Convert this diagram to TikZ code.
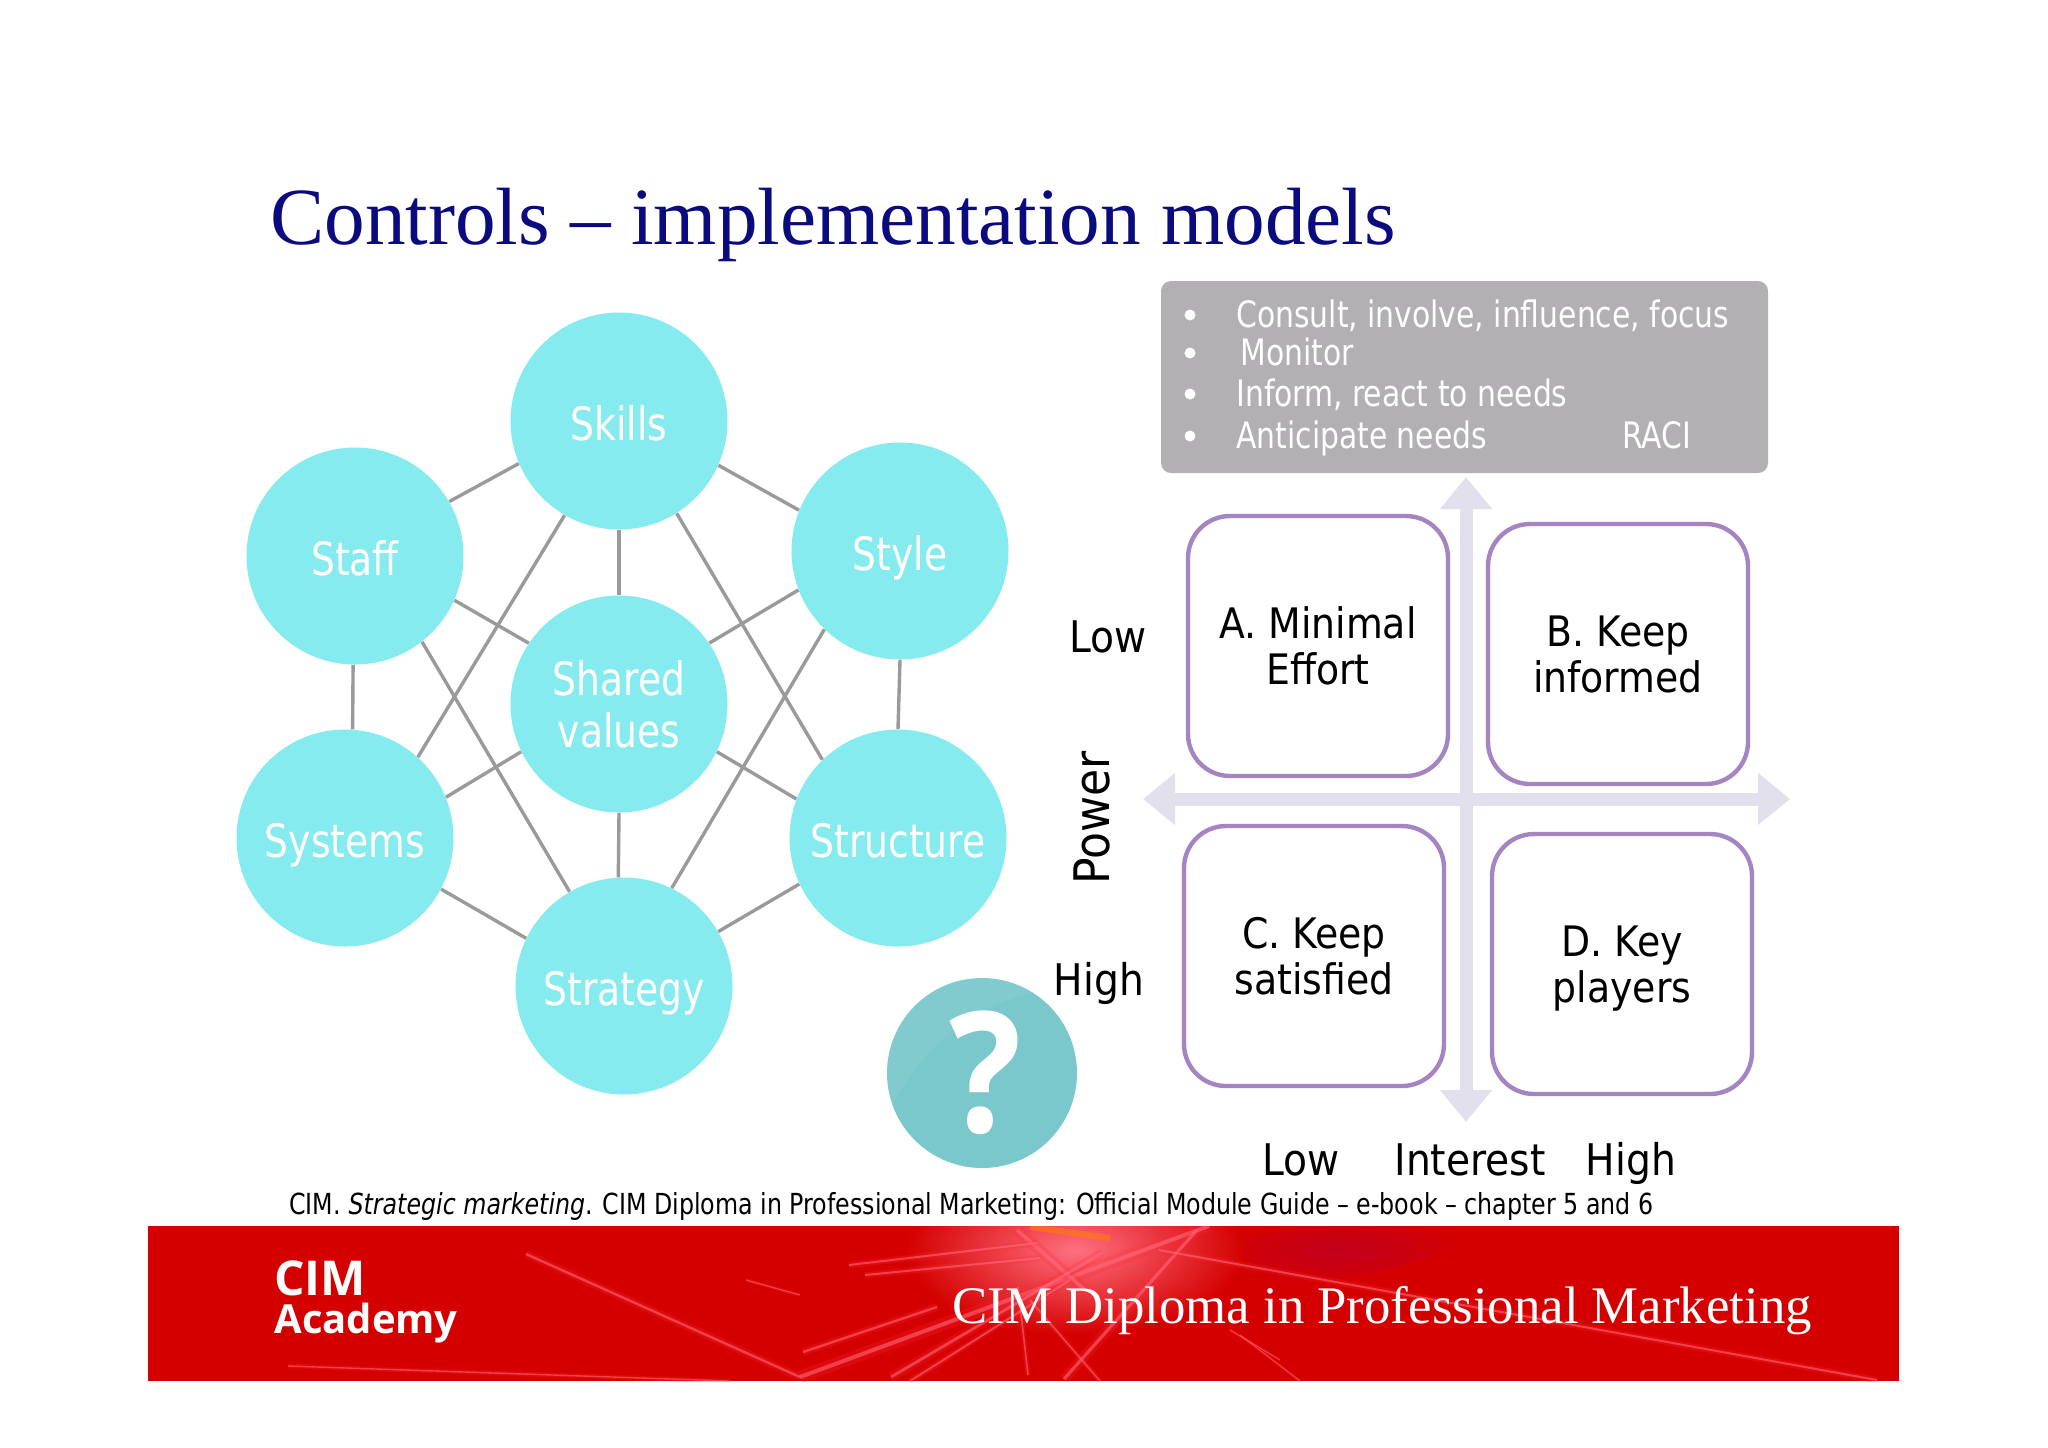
\documentclass[tikz,border=0pt]{standalone}
\usepackage{fontspec}
\setmainfont{DejaVu Sans Condensed}[FakeStretch=0.91]
\newfontfamily\titlefont{Liberation Serif}
\newfontfamily\logofont{Open Sans}
\newfontfamily\badgefont{Open Sans}[FakeStretch=0.9]
\newfontfamily\widerfont{DejaVu Sans Condensed}
\usetikzlibrary{arrows.meta}
\definecolor{titleblue}{HTML}{0B0B80}
\definecolor{skyfill}{HTML}{85EBEE}
\definecolor{linkgrey}{HTML}{9A9A9C}
\definecolor{boxgrey}{HTML}{B2B0B3}
\definecolor{crosslilac}{HTML}{E2E0EC}
\definecolor{boxpurple}{HTML}{A585C1}
\definecolor{badgeteal}{HTML}{7BC8CC}
\definecolor{bannerred}{HTML}{D40000}
\definecolor{glowred}{HTML}{FF2A3A}
\definecolor{streakpink}{HTML}{FF7080}
\begin{document}
\begin{tikzpicture}
      [x=0.5pt,y=-0.5pt,
      bubble/.style={circle,fill=skyfill,text=white,minimum size=108.5pt,
        inner sep=0pt,align=center,text height=19pt,text depth=0pt,
        font=\fontsize{23}{26}\selectfont},
      link/.style={draw=linkgrey,line width=1.7pt},
      quadrant/.style={draw=boxpurple,fill=white,line width=2.2pt,rounded corners=21pt,
        minimum width=130pt,minimum height=130pt,inner sep=0pt,align=center,
        font=\widerfont\fontsize{21}{23}\selectfont},
      axislabel/.style={font=\widerfont\fontsize{21.8}{23}\selectfont,inner sep=0pt,anchor=base},
      crossarrow/.style={draw=crosslilac,line width=6.5pt,
        {Triangle[width=25pt,length=16pt]}-{Triangle[width=25pt,length=16pt]}},
      greyline/.style={text=white,anchor=base west,inner sep=0pt,font=\fontsize{18.2}{19}\selectfont},
      greydot/.style={circle,fill=white,minimum size=5.5pt,inner sep=0pt}]
      \useasboundingbox (0,0) rectangle (2048,1447);
      \fill[white] (0,0) rectangle (2048,1447);

      \node[anchor=west,inner sep=0pt,text=titleblue,font=\titlefont\fontsize{40.6}{44}\selectfont]
        (title) at (270,225) {Controls – implementation models};

      % seven bubbles
      \node[bubble] (skills) at (619,421) {Skills};
      \node[bubble] (staff) at (355,556) {Staff};
      \node[bubble] (style) at (900,551) {Style};
      \node[bubble,text height=,text depth=] (shared) at (619,704) {Shared\\values};
      \node[bubble] (systems) at (345,838) {Systems};
      \node[bubble] (structure) at (898,838) {Structure};
      \node[bubble] (strategy) at (624,986) {Strategy};

      \foreach \from/\fromangle/\to/\toangle in {
        skills/203/staff/30, skills/336/style/158, skills/270/shared/90,
        skills/240/systems/48, skills/302/structure/134, staff/336/shared/146,
        staff/269/systems/86, staff/308/strategy/120, style/201/shared/34,
        style/270/structure/90, style/226/strategy/64, shared/206/systems/22,
        shared/334/structure/159, shared/270/strategy/93, systems/332/strategy/154,
        structure/205/strategy/30}
        \draw[link] (\from.\fromangle) -- (\to.\toangle);

      % grey box
      \node[fill=boxgrey,rounded corners=5pt,minimum width=303.5pt,minimum height=96pt,inner sep=0pt]
        (notes) at (1464.5,377) {};
      \node[greydot] (dota) at (1190,315) {};
      \node[greydot] (dotb) at (1190,353) {};
      \node[greydot] (dotc) at (1190,394) {};
      \node[greydot] (dotd) at (1190,436) {};
      \node[greyline] (consult) at (1236,327) {Consult, involve, influence, focus};
      \node[greyline] (monitor) at (1240,365) {Monitor};
      \node[greyline] (inform) at (1236,406) {Inform, react to needs};
      \node[greyline] (anticipate) at (1236,448) {Anticipate needs};
      \node[greyline] (raci) at (1622,448) {RACI};

      % power interest cross
      \coordinate (crosstop) at (1466,477);
      \coordinate (crossbottom) at (1466,1122);
      \coordinate (crossleft) at (1143,799);
      \coordinate (crossright) at (1790,799);
      \draw[crossarrow] (crosstop) -- (crossbottom);
      \draw[crossarrow] (crossleft) -- (crossright);

      \node[quadrant] (minimal) at (1318,646) {A. Minimal\\Effort};
      \node[quadrant] (informed) at (1618,654) {B. Keep\\informed};
      \node[quadrant] (satisfied) at (1314,956) {C. Keep\\satisfied};
      \node[quadrant] (players) at (1622,964) {\rule{0pt}{20pt}D. Key\\players};

      \node[axislabel] (powerlow) at (1108,652) {Low};
      \node[rotate=90,inner sep=0pt,font=\widerfont\fontsize{24.5}{27}\selectfont] (power) at (1092,818) {Power};
      \node[axislabel] (powerhigh) at (1099,995) {High};
      \node[axislabel] (interestlow) at (1301,1175) {Low};
      \node[axislabel] (interest) at (1470,1175) {Interest};
      \node[axislabel] (interesthigh) at (1631,1175) {High};

      % question badge
      \node[circle,fill=badgeteal,minimum size=95pt,inner sep=0pt] (badge) at (982,1073) {};
      \begin{scope}
        \clip (982,1073) circle [radius=95];
        \fill[white,opacity=0.05] (880,1130) .. controls (930,1020) and (1000,990) .. (1090,985)
          -- (1090,960) -- (880,960) -- cycle;
      \end{scope}
      \node[inner sep=0pt,text=white,font=\badgefont\bfseries\fontsize{84}{84}\selectfont]
        (mark) at (986,1073) {?};

      \node[anchor=west,inner sep=0pt,font=\fontsize{14.5}{16}\selectfont] (source) at (289,1206)
        {CIM. \textit{Strategic marketing}. CIM Diploma in Professional Marketing: Official Module Guide – e-book – chapter 5 and 6};

      % banner
      \fill[bannerred] (148,1226) rectangle (1899,1381);
      \begin{scope}
        \clip (148,1226) rectangle (1899,1381);
        \shade[inner color=violet!22!bannerred,outer color=bannerred,rotate around={8:(1340,1248)}]
          (1340,1248) ellipse [x radius=130,y radius=30];
        \shade[inner color=streakpink,outer color=bannerred] (1075,1250) ellipse [x radius=170,y radius=85];
        \draw[orange,opacity=0.55,line width=3pt] (1030,1227) -- (1110,1238);
        \foreach \ax/\ay/\bx/\by/\w in {
          1209/1226/800/1377/2.0, 1017/1230/1085/1290/1.8, 1197/1230/1064/1379/1.6,
          526/1254/800/1377/1.2, 849/1265/1037/1243/1.0, 865/1275/1040/1258/1.0,
          1159/1250/1877/1380/1.0, 891/1377/1102/1253/1.4, 803/1352/937/1307/1.2,
          746/1280/800/1295/.6, 288/1366/730/1381/.7, 1018/1287/1028/1375/.8,
          910/1381/1070/1280/1.0, 1240/1335/1300/1381/.5, 1230/1330/1280/1360/.5,
          1030/1300/1100/1381/.8}{
          \draw[glowred,opacity=0.22,line width=3.2*\w pt] (\ax,\ay) -- (\bx,\by);
          \draw[streakpink,opacity=0.55,line width=\w pt] (\ax,\ay) -- (\bx,\by);
        }
      \end{scope}

      \node[anchor=base west,inner sep=0pt,text=white,text depth=0pt,text height=17pt,
        font=\logofont\bfseries\fontsize{24}{24}\selectfont] (logotop) at (274,1295) {CIM};
      \node[anchor=base west,inner sep=0pt,text=white,text height=15pt,
        font=\logofont\bfseries\fontsize{20}{20}\selectfont] (logobottom) at (274,1333) {Academy};
      \node[anchor=west,inner sep=0pt,text=white,font=\titlefont\fontsize{26.4}{30}\selectfont]
        (banner) at (952,1311) {CIM Diploma in Professional Marketing};
    \end{tikzpicture}
\end{document}
